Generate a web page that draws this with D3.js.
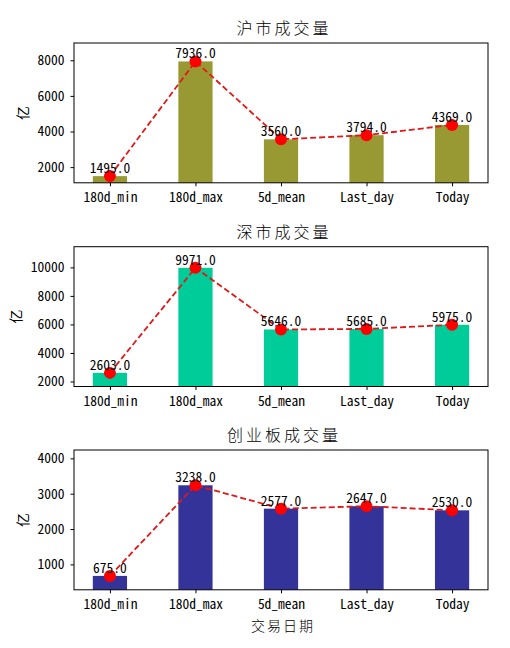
<!DOCTYPE html>
<html>
<head>
  <meta charset="utf-8">
  <script src="https://d3js.org/d3.v7.min.js"></script>
  <style>
    body { margin: 0; background: #fff; }
    text { font-family: "Noto Sans Mono CJK SC", "DejaVu Sans Mono", monospace; }
  </style>
</head>
<body>
<div id="chart"></div>
<script>
// categories and values
var categories = ["180d_min", "180d_max", "5d_mean", "Last_day", "Today"];
var shValues = [1495, 7936, 3560, 3794, 4369];
var szValues = [2603, 9971, 5646, 5685, 5975];
var cybValues = [675, 3238, 2577, 2647, 2530];

var titles = ["沪市成交量", "深市成交量", "创业板成交量"];
var barColors = ["#999933", "#00cc99", "#333399"];
var yDomains = [[1120, 8970], [1648, 11450], [282, 4236]];
var yTicks = [[2000, 4000, 6000, 8000], [2000, 4000, 6000, 8000, 10000], [1000, 2000, 3000, 4000]];

var W = 510, H = 648;
var svg = d3.select("#chart").append("svg")
  .attr("width", W).attr("height", H);

var left = 74, right = 488;
var tops = [43, 246.7, 450];
var plotH = 139.8;
var fs = "13.5px";

var x = d3.scaleLinear().domain([-0.42, 4.42]).range([left, right]);
var barW = x(0.4) - x(0);

[shValues, szValues, cybValues].forEach(function(vals, i) {
  var top = tops[i], bottom = top + plotH;
  var y = d3.scaleLinear().domain(yDomains[i]).range([bottom, top]);
  var g = svg.append("g");

  // bars
  g.selectAll("rect.bar")
    .data(vals)
    .enter().append("rect")
    .attr("x", function(d, j) { return x(j) - barW / 2; })
    .attr("y", function(d) { return y(d); })
    .attr("width", barW)
    .attr("height", function(d) { return bottom - y(d); })
    .attr("fill", barColors[i]);

  // dashed line
  var line = d3.line()
    .x(function(d, j) { return x(j); })
    .y(function(d) { return y(d); });
  g.append("path")
    .datum(vals)
    .attr("d", line)
    .attr("fill", "none")
    .attr("stroke", "#e01818")
    .attr("stroke-width", 1.8)
    .attr("stroke-dasharray", "6,3");

  // markers
  g.selectAll("circle")
    .data(vals)
    .enter().append("circle")
    .attr("cx", function(d, j) { return x(j); })
    .attr("cy", function(d) { return y(d); })
    .attr("r", 6)
    .attr("fill", "#ff0000");

  // value labels
  g.selectAll("text.val")
    .data(vals)
    .enter().append("text")
    .attr("x", function(d, j) { return x(j); })
    .attr("y", function(d) { return y(d) - 3; })
    .attr("text-anchor", "middle")
    .attr("font-size", fs)
    .attr("fill", "#000")
    .text(function(d) { return d.toFixed(1); });

  // axes frame
  g.append("rect")
    .attr("x", left).attr("y", top)
    .attr("width", right - left).attr("height", plotH)
    .attr("fill", "none").attr("stroke", "#000").attr("stroke-width", 1);

  // y axis
  var ya = g.append("g")
    .attr("transform", "translate(" + left + ",0)")
    .call(d3.axisLeft(y).tickValues(yTicks[i]).tickFormat(d3.format("d"))
      .tickSize(3.5).tickPadding(6));
  ya.select(".domain").remove();
  ya.selectAll("text").attr("font-size", fs).attr("fill", "#000")
    .style("font-family", "'Noto Sans Mono CJK SC', 'DejaVu Sans Mono', monospace");

  // x axis
  var xa = g.append("g")
    .attr("transform", "translate(0," + bottom + ")")
    .call(d3.axisBottom(x).tickValues([0, 1, 2, 3, 4])
      .tickFormat(function(d) { return categories[d]; })
      .tickSize(3.5).tickPadding(6));
  xa.select(".domain").remove();
  xa.selectAll("text").attr("font-size", fs).attr("fill", "#000")
    .style("font-family", "'Noto Sans Mono CJK SC', 'DejaVu Sans Mono', monospace");

  // title
  g.append("text")
    .attr("x", (left + right) / 2 + 3)
    .attr("y", top - 9)
    .attr("text-anchor", "middle")
    .attr("font-size", "16px")
    .attr("letter-spacing", "3px")
    .style("font-family", "'Noto Sans CJK SC'")
    .style("font-weight", 300)
    .text(titles[i]);

  // y label
  var ylx = i === 1 ? 16 : 23;
  g.append("text")
    .attr("transform", "translate(" + ylx + "," + (top + plotH / 2) + ") rotate(-90)")
    .attr("text-anchor", "middle")
    .attr("dy", "0.35em")
    .attr("font-size", "14px")
    .style("font-family", "'Noto Sans CJK SC'")
    .text("亿");
});

// x label on last panel
svg.append("text")
  .attr("x", 283)
  .attr("y", 631)
  .attr("text-anchor", "middle")
  .attr("font-size", "14px")
  .attr("letter-spacing", "2px")
  .style("font-family", "'Noto Sans CJK SC'")
  .style("font-weight", 300)
  .text("交易日期");
</script>
</body>
</html>
